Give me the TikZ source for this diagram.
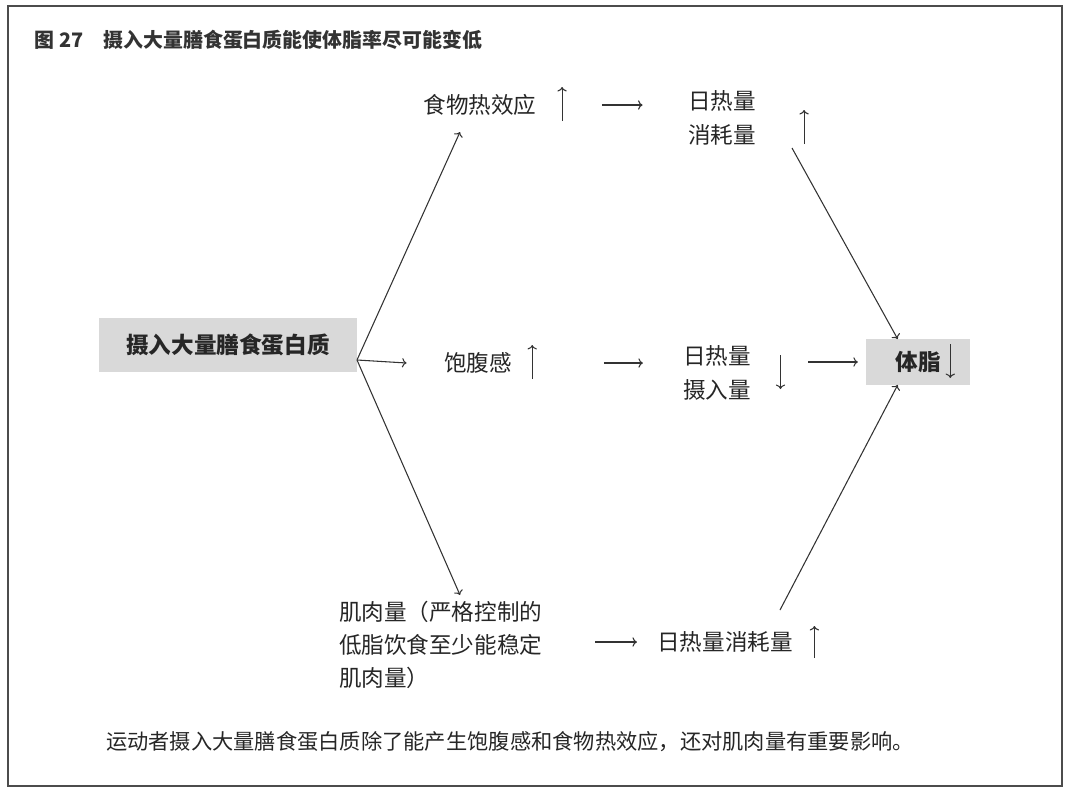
\documentclass[tikz,border=0pt]{standalone}
\usepackage{fontspec}
\setmainfont{Noto Sans CJK SC}
\usetikzlibrary{positioning, arrows.meta}

\begin{document}
\begin{tikzpicture}[
            x = 0.0264583cm, y = -0.0264583cm, % pixel units
            -> = {Stealth[length=6pt, width=4pt]}, % arrow head style
            semithick, % line style
            txt/.style = {font=\fontsize{17}{25}\selectfont, text=black!85, inner sep=2pt},
            keybox/.style = {txt, fill=black!15, font=\fontsize{17}{25}\selectfont\bfseries},
            flow/.style = {->, black!80, thick}
        ]

        % frame and margins
        \useasboundingbox (0,0) rectangle (1071,797);
        \draw[black!70, thick] (8,6) rectangle (1062,786);

        \node[anchor=west, font=\fontsize{15}{18}\selectfont\bfseries, text=black!80] (title) at (30,40) {图 27\quad 摄入大量膳食蛋白质能使体脂率尽可能变低};

        \node[keybox, minimum width=194pt, minimum height=40pt, align=center] (P) at (228,345) {摄入大量膳食蛋白质};

        \node[txt] (TE) at (480,105) {食物热效应};
        \node[txt, align=center] (EC) at (722,118) {日热量\\消耗量};
        \node[txt] (SA) at (478,363) {饱腹感};
        \node[txt, align=center] (EI) at (717,373) {日热量\\摄入量};
        \node[keybox, minimum width=78pt, minimum height=34pt] (BF) at (918,362) {体脂\hspace{24pt}};
        \node[txt, align=left, anchor=west] (MU) at (336,645) {肌肉量（严格控制的\\低脂饮食至少能稳定\\肌肉量）};
        \node[txt] (EC2) at (725,642) {日热量消耗量};

        \node[anchor=center, font=\fontsize{16}{20}\selectfont, text=black!85] (cap) at (510,742) {运动者摄入大量膳食蛋白质除了能产生饱腹感和食物热效应，还对肌肉量有重要影响。};

        % small trend arrows
        \draw[flow] ([xshift=17pt]TE.east) ++(0,16) -- ++(0,-34);
        \draw[flow] ([xshift=34pt]EC.east) ++(0,26) -- ++(0,-34);
        \draw[flow] ([xshift=13pt]SA.east) ++(0,16) -- ++(0,-34);
        \draw[flow] ([xshift=20pt]EI.east) ++(0,-18) -- ++(0,34);
        \draw[flow] ([xshift=-15pt]BF.east) ++(0,-18) -- ++(0,34);
        \draw[flow] ([xshift=14pt]EC2.east) ++(0,16) -- ++(0,-32);

        % horizontal connectors
        \draw[flow] ([xshift=47pt]TE.east) -- ([xshift=-32pt]EC.west |- TE.east);
        \draw[flow] ([xshift=67pt]SA.east) -- ([xshift=-28pt]EI.west |- SA.east);
        \draw[flow] ([xshift=41pt]EI.east |- BF.west) -- ([xshift=-6pt]BF.west);
        \draw[flow] ([xshift=195pt]MU.west |- EC2.west) -- ([xshift=-13pt]EC2.west);

        % branches
        \coordinate (fork) at (357,360);
        \draw[flow] (fork) -- (460,132);
        \draw[flow] (fork) -- ([xshift=-26pt]SA.west);
        \draw[flow] (fork) -- (460,595);
        \draw[flow] (792,148) -- ([xshift=24pt]BF.north west);
        \draw[flow] (780,610) -- ([xshift=24pt]BF.south west);
    \end{tikzpicture}
\end{document}
